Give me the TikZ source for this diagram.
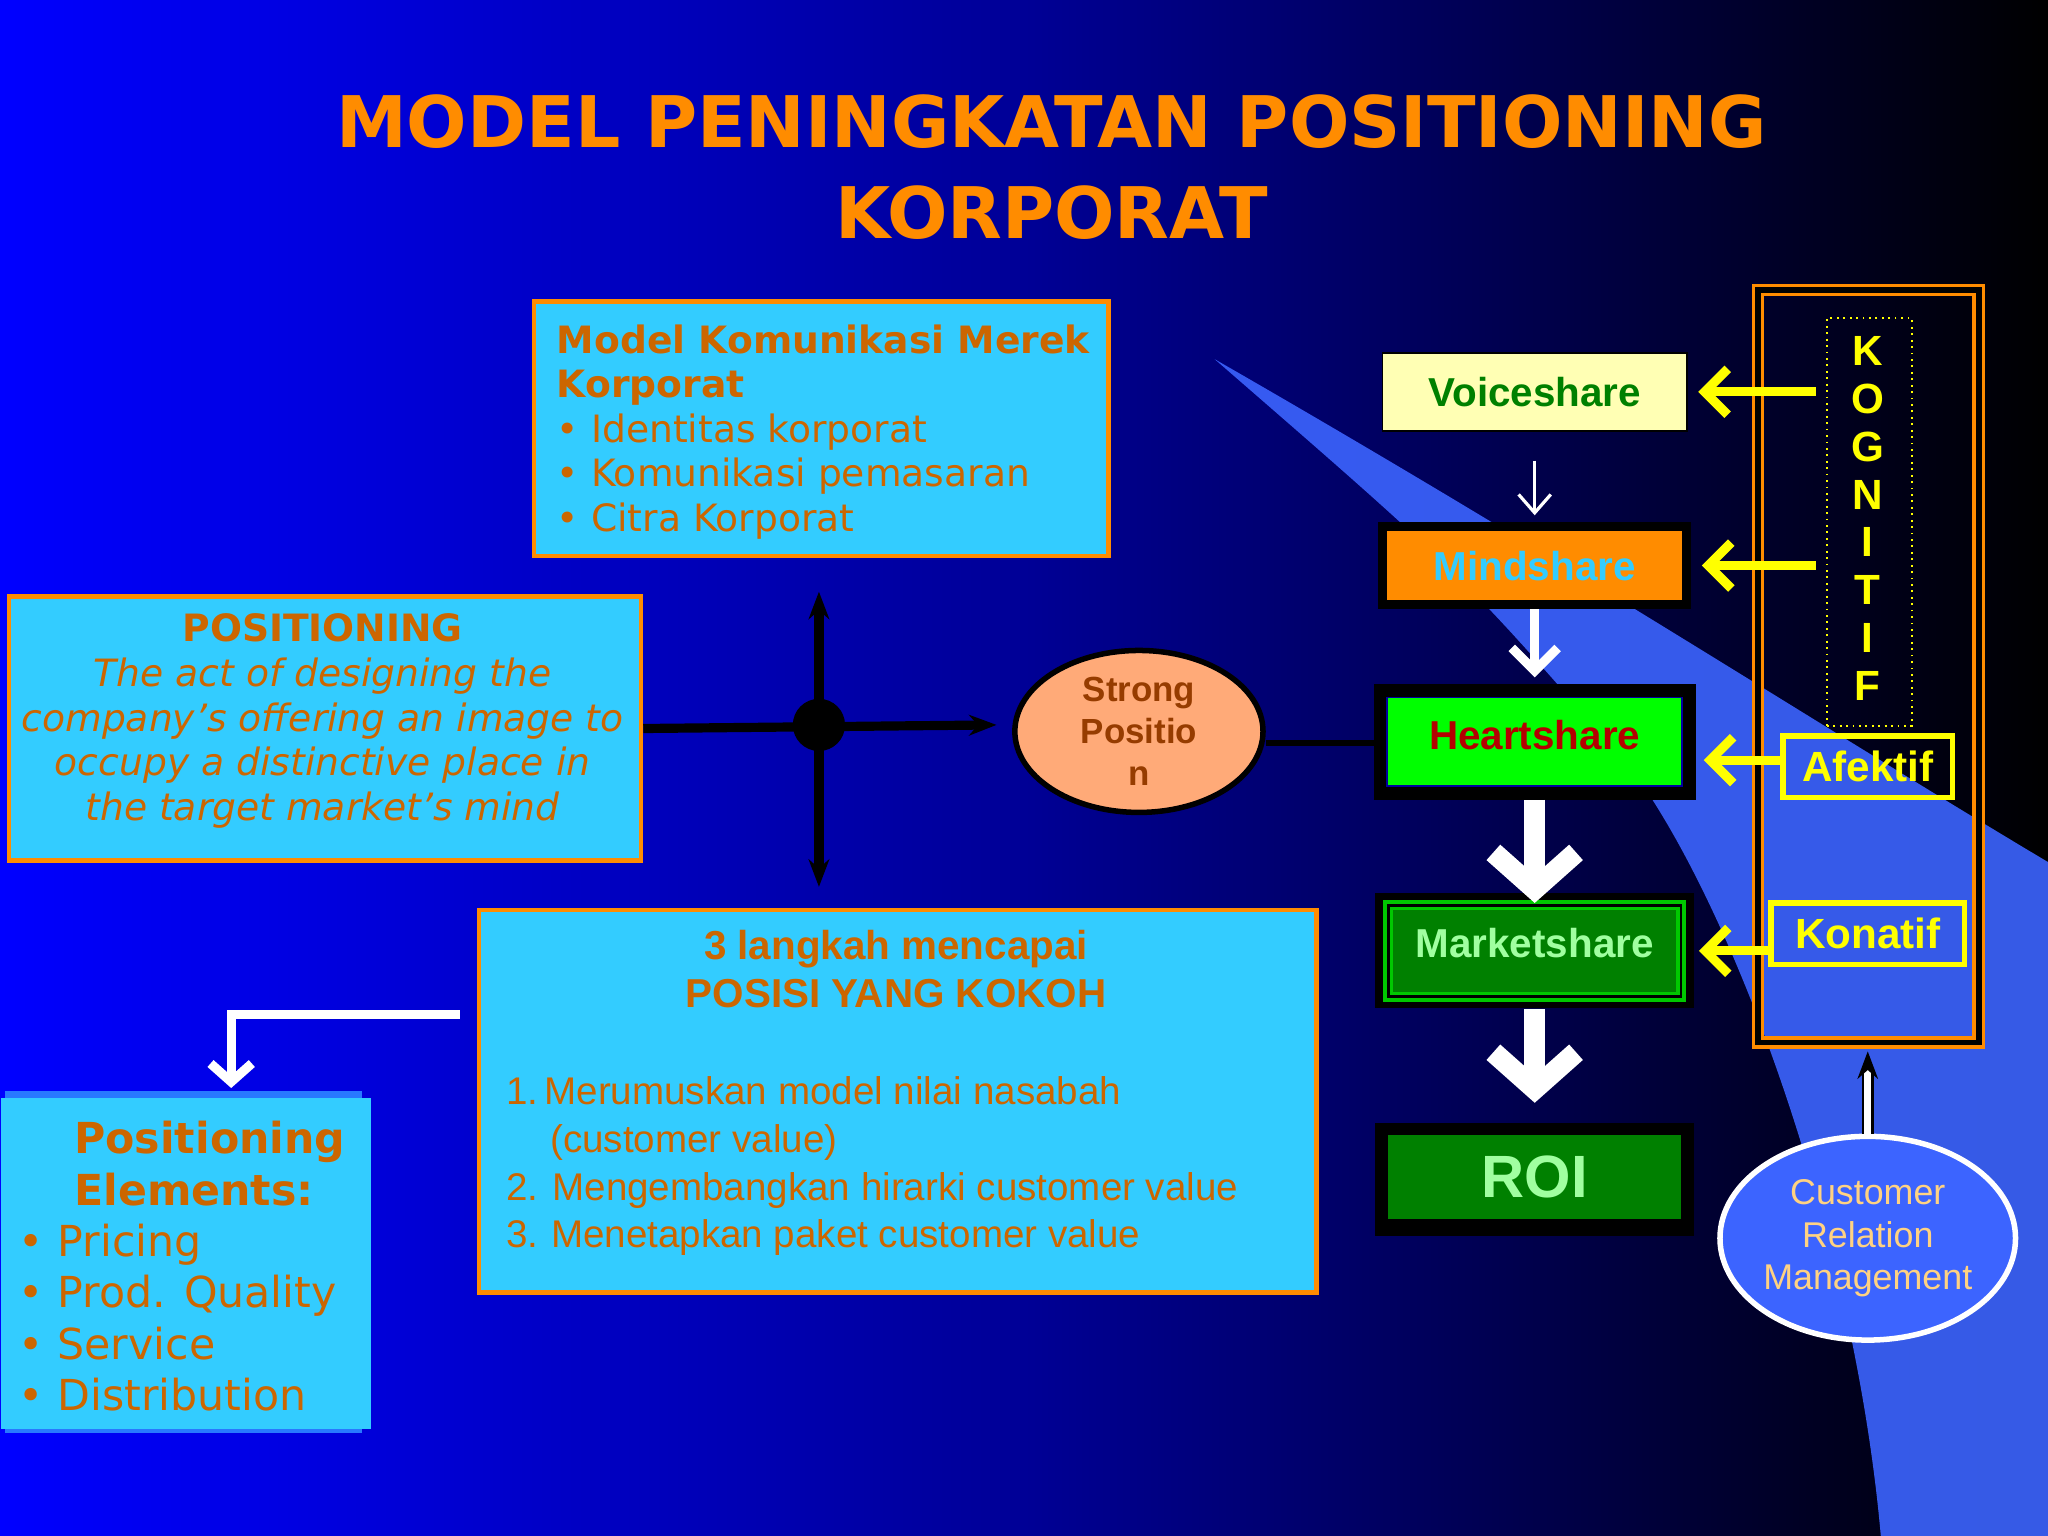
\documentclass[tikz,border=0pt]{standalone}
\usepackage{fontspec}
\setmainfont{DejaVu Sans}
\newfontfamily\ar{Liberation Sans}
\usetikzlibrary{arrows.meta,shapes.geometric}
\definecolor{cy}{RGB}{51,204,255}
\definecolor{tx}{RGB}{204,102,0}
\definecolor{org}{RGB}{255,140,0}
\definecolor{sw}{RGB}{60,100,255}
\definecolor{ylw}{RGB}{255,255,0}
\definecolor{bgb}{RGB}{0,0,255}
\definecolor{bgm}{RGB}{0,0,150}
\definecolor{shd}{RGB}{40,120,255}
\definecolor{peach}{RGB}{255,170,120}
\definecolor{brn}{RGB}{150,60,0}
\definecolor{lyel}{RGB}{255,255,180}
\definecolor{dg}{RGB}{0,128,0}
\definecolor{lg}{RGB}{160,255,160}
\definecolor{bg}{RGB}{0,255,0}
\definecolor{dr}{RGB}{180,0,0}
\definecolor{nb}{RGB}{0,0,160}
\definecolor{mg}{RGB}{0,200,0}
\definecolor{crmt}{RGB}{255,210,130}
\begin{document}
\begin{tikzpicture}[x=0.1mm,y=-0.1mm,
 cbox/.style={draw=org,line width=1pt,fill=cy,text=tx,inner sep=0pt},
 yarr/.style={ylw,line width=2pt,-{Straight Barb[length=5pt,width=10pt]}},
 warr/.style={white,line width=4.5pt,-{Straight Barb[length=8pt,width=18pt]}}]
\useasboundingbox (0,0) rectangle (1568,1176);
\shade[left color=bgb,right color=black,middle color=bgm] (0,0) rectangle (1568,1176);
\fill[sw,opacity=0.9] (930,275) .. controls (1200,430) and (1400,560) .. (1568,660) -- (1568,1176) -- (1440,1176) .. controls (1420,950) and (1330,700) .. (1250,590) .. controls (1120,440) .. (930,275) -- cycle;
\node[text=org,font=\bfseries\fontsize{15.5}{20}\selectfont,align=center] (title) at (805,128) {MODEL PENINGKATAN POSITIONING\\KORPORAT};
% box 1
\node[cbox,minimum width=44mm,minimum height=19.5mm,anchor=north west] (b1) at (407,229) {};
\node[text=tx,anchor=north west,align=left,font=\fontsize{8.2}{9.7}\selectfont] (b1t) at (414,236) {\textbf{Model Komunikasi Merek}\\\textbf{Korporat}\\• Identitas korporat\\• Komunikasi pemasaran\\• Citra Korporat};
% positioning box
\node[cbox,minimum width=48.4mm,minimum height=20.2mm,anchor=north west] (b2) at (5,455) {};
\node[text=tx,align=center,font=\fontsize{8.2}{9.7}\selectfont] (b2t) at (247,552) {\textbf{POSITIONING}\\\itshape The act of designing the\\\itshape company’s offering an image to\\\itshape occupy a distinctive place in\\\itshape the target market’s mind};
% cross
\coordinate (ct) at (627,453); \coordinate (cb) at (627,679); \coordinate (cr) at (763,555);
\node[circle,fill=black,minimum size=4mm,inner sep=0] (dot) at (627,555) {};
\draw[line width=2pt,{Stealth[length=6pt]}-{Stealth[length=6pt]}] (ct) -- (cb);
\draw[line width=2pt,-{Stealth[length=6pt]}] (b2.east) -- (cr);
% ellipse
\node[ellipse,draw=black,line width=1.2pt,fill=peach,minimum width=19mm,minimum height=12.4mm,inner sep=0pt,align=center,text=brn,font=\ar\bfseries\fontsize{7.6}{9.2}\selectfont] (sp) at (872,560) {Strong\\Positio\\n};
% right stack
\node[draw=black,fill=lyel,minimum width=23.3mm,minimum height=6mm,text=dg,font=\ar\bfseries\fontsize{8.8}{10}\selectfont] (vs) at (1175,300) {Voiceshare};
\node[draw=black,line width=2pt,fill=org,minimum width=23.3mm,minimum height=6mm,text=cy,font=\ar\bfseries\fontsize{8.8}{10}\selectfont] (ms) at (1175,433) {Mindshare};
\node[draw=black,line width=2.5pt,fill=black,minimum width=23.8mm,minimum height=8mm,inner sep=0pt] (hsout) at (1175,568) {};
\node[draw=nb,fill=bg,minimum width=22.6mm,minimum height=6.8mm,inner sep=0pt,text=dr,font=\ar\bfseries\fontsize{8.8}{10}\selectfont] (hs) at (1175,568) {\raisebox{3pt}{Heartshare}};
\draw[black,line width=1.2pt] (sp.east |- 0,569) -- (hsout.west |- 0,569);
\node[fill=black,minimum width=24.4mm,minimum height=8.8mm,inner sep=0pt] (mkout) at (1175,728) {};
\node[draw=mg,double=black,line width=0.8pt,fill=dg,minimum width=22.4mm,minimum height=7mm,text=lg,inner sep=0pt,font=\ar\bfseries\fontsize{8.8}{10}\selectfont] (mk) at (1175,728) {\raisebox{3.5pt}{Marketshare}};
\node[fill=black,minimum width=24.4mm,minimum height=8.6mm,inner sep=0pt] (roiout) at (1175,903) {};
\node[fill=dg,minimum width=22.4mm,minimum height=6.4mm,inner sep=0pt,text=lg,font=\ar\bfseries\fontsize{13}{15}\selectfont] (roi) at (1175,901) {ROI};
\draw[white,line width=0.7pt,-{Straight Barb[length=4pt,width=7pt]}] ([yshift=-2.2mm]vs.south) -- ([yshift=0.5mm]ms.north);
\draw[white,line width=2pt,-{Straight Barb[length=5pt,width=10pt]}] (ms.south) -- ([yshift=0.5mm]hsout.north);
\draw[warr] (hsout.south) -- ([yshift=-0.8mm]mkout.north);
\draw[warr] (mkout.south) -- ([yshift=1.5mm]roiout.north);
% right column
\draw[org,line width=0.8pt,double=black,double distance=1.2pt] (1346,222) rectangle (1515,798);
\node[draw=ylw,densely dotted,minimum width=6.5mm,minimum height=31.2mm,anchor=north west,inner sep=0pt] (kog) at (1398,243) {};
\node[text=ylw,font=\ar\bfseries\fontsize{9.2}{10.4}\selectfont,align=center] (kogt) at (1430,397) {K\\O\\G\\N\\I\\T\\I\\F};
\node[draw=ylw,line width=1.2pt,minimum width=13mm,minimum height=4.7mm,inner sep=0pt,text=ylw,font=\ar\bfseries\fontsize{9.2}{10}\selectfont] (af) at (1430,587) {Afektif};
\node[draw=ylw,line width=1.2pt,minimum width=14.8mm,minimum height=4.7mm,inner sep=0pt,text=ylw,font=\ar\bfseries\fontsize{9.2}{10}\selectfont] (ko) at (1430,715) {Konatif};
\draw[yarr] ([xshift=-0.8mm]kog.west |- vs) -- ([xshift=0.8mm]vs.east);
\draw[yarr] ([xshift=-0.8mm]kog.west |- ms) -- ([xshift=0.8mm]ms.east);
\draw[yarr] (af.west |- 0,582) -- ([xshift=0.6mm]hsout.east |- 0,582);
\draw[yarr] (ko.west |- 0,728) -- ([xshift=0.3mm]mkout.east |- 0,728);
\node[ellipse,draw=white,line width=1.2pt,fill=sw,minimum width=22.2mm,minimum height=15.6mm,inner sep=0pt,align=center,text=crmt,font=\ar\fontsize{7.8}{9.2}\selectfont] (crm) at (1430,948) {Customer\\Relation\\Management};
\coordinate (fb) at (1430,805);
\draw[black,line width=0.5pt,double,double distance=1.5pt,-{Stealth[length=6pt]}] (crm.north) -- (fb);
% 3 langkah
\node[cbox,minimum width=64.1mm,minimum height=29.3mm,anchor=north west] (b3) at (365,695) {};
\node[text=tx,align=center,font=\ar\bfseries\fontsize{8.8}{10.3}\selectfont] (b3h) at (686,742) {3 langkah mencapai\\POSISI YANG KOKOH};
\node[text=tx,align=left,anchor=north west,font=\ar\fontsize{8.4}{10.4}\selectfont] (b3t) at (375,812) {1.\,Merumuskan model nilai nasabah\\\hspace*{1.15em}(customer value)\\2. Mengembangkan hirarki customer value\\3.\,\,Menetapkan paket customer value};
% positioning elements
\fill[shd] (4,835) rectangle (277,1097);
\node[fill=cy,minimum width=28.3mm,minimum height=25.3mm,anchor=north west,inner sep=0] (pe) at (0,840) {};
\node[text=tx,align=left,anchor=north west,font=\fontsize{9.3}{11.2}\selectfont] (pet) at (2,846) {\hspace*{1.3em}\textbf{Positioning}\\\hspace*{1.3em}\textbf{Elements:}\\• Pricing\\• Prod. Quality\\• Service\\• Distribution};
\coordinate (el) at (352,777);
\draw[white,line width=2pt,-{Straight Barb[length=4pt,width=9pt]}] (el) -| ([yshift=0.7mm]pe.north -| 177,0);
\end{tikzpicture}
\end{document}
